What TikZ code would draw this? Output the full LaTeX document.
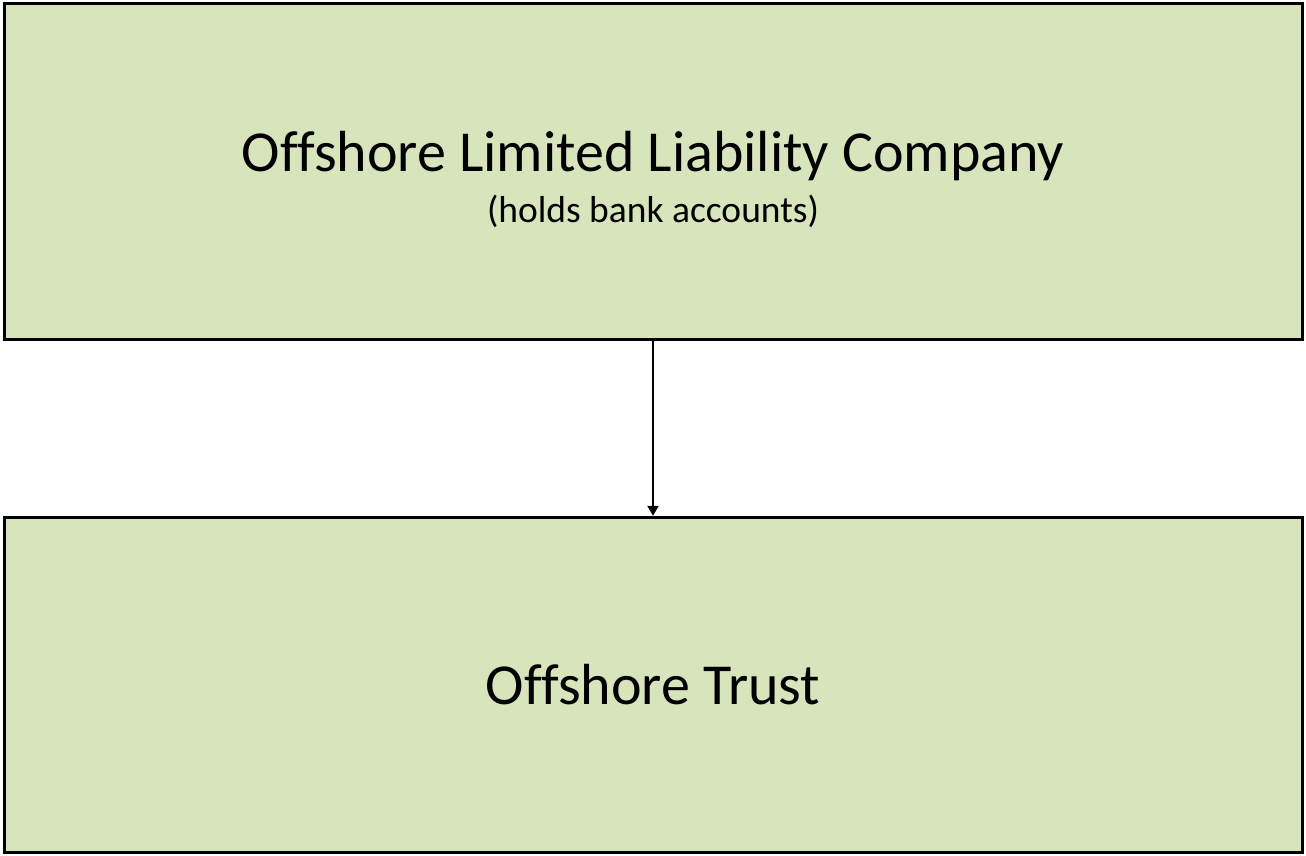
\documentclass[tikz,border=0pt]{standalone}
\usepackage{fontspec}
\setmainfont[Ligatures=CommonOff]{Carlito}
\usetikzlibrary{arrows.meta}
\definecolor{boxgreen}{RGB}{216,228,188}

\begin{document}
\begin{tikzpicture}[x=1pt, y=-1pt]
    % entity boxes
    \tikzstyle{entity}=[draw=black, fill=boxgreen, line width=3pt, minimum width=1298pt, minimum height=335pt, inner sep=0, align=center]
    \tikzstyle{link}=[line width=2pt, -{Triangle[length=10pt, width=11pt]}]
    \useasboundingbox (0,0) rectangle (1306,856);
    % company on top
    \node[entity] (company) at (653,171.5) {\fontsize{58}{48}\selectfont\rule{0pt}{56pt}Offshore Limited Liability Company\\[13pt]\fontsize{37.5}{48}\selectfont (holds bank accounts)};
    % trust below
    \node[entity] (trust) at (653,684.8) {\fontsize{58}{70}\selectfont Offshore Trust};
    \draw[link] (company) -- (trust);
\end{tikzpicture}
\end{document}
